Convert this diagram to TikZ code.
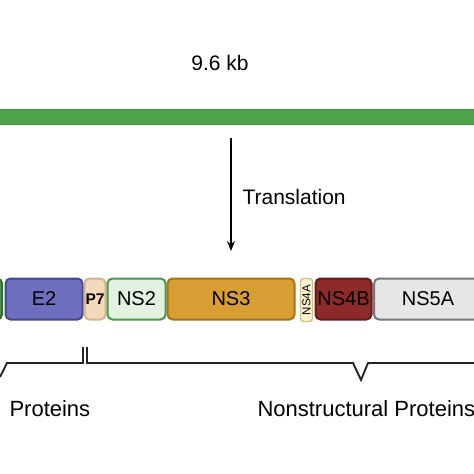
\documentclass[tikz,border=0pt]{standalone}
\usepackage{fontspec}
\setmainfont{Liberation Sans}
\usetikzlibrary{arrows.meta}
\definecolor{genome}{HTML}{4CA34A}
\definecolor{genomeedge}{HTML}{3B8C3B}
\definecolor{eone}{HTML}{4A9A4A}
\definecolor{eoneedge}{HTML}{2D6E2D}
\definecolor{etwo}{HTML}{6E6EBE}
\definecolor{etwoedge}{HTML}{46468F}
\definecolor{pseven}{HTML}{F3D9BC}
\definecolor{psevenedge}{HTML}{D4B28E}
\definecolor{nstwo}{HTML}{E2F2E0}
\definecolor{nstwoedge}{HTML}{4A964C}
\definecolor{nsthree}{HTML}{D69E33}
\definecolor{nsthreeedge}{HTML}{A87218}
\definecolor{nsfoura}{HTML}{FAF3CF}
\definecolor{nsfouraedge}{HTML}{D2C080}
\definecolor{nsfourb}{HTML}{8E2A2A}
\definecolor{nsfourbedge}{HTML}{651A1A}
\definecolor{nsfivea}{HTML}{E6E6E6}
\definecolor{nsfiveaedge}{HTML}{767676}
\definecolor{bracket}{HTML}{262626}
\begin{document}
\begin{tikzpicture}[x=1pt,y=-1pt,
  prot/.style={draw, line width=2pt, rounded corners=5pt, minimum height=41pt,
    inner sep=0pt, font=\fontsize{20}{20}\selectfont},
  lbl/.style={font=\fontsize{21}{21}\selectfont},
  brace/.style={draw=bracket, line width=1.9pt}]
\useasboundingbox (0,0) rectangle (474,474);
\clip (0,0) rectangle (474,474);
% genome
\node[lbl] (size) at (220,63) {9.6 kb};
\filldraw[fill=genome, draw=genomeedge, line width=1pt] (-5,109) rectangle (480,124);
% translation arrow
\coordinate (transtop) at (231,138);
\coordinate (transbot) at (231,251);
\draw[line width=1.6pt, -{Stealth[length=10pt,width=8pt]}] (transtop) -- (transbot);
\node[lbl, anchor=west] (trans) at (239,197) {Translation};
% polyprotein
\node[prot, fill=eone, draw=eoneedge, minimum width=60pt] (eone) at (-28,299) {};
\node[prot, fill=etwo, draw=etwoedge, minimum width=77pt] (etwo) at (44,299) {E2};
\node[prot, fill=pseven, draw=psevenedge, minimum width=21pt,
  font=\fontsize{15.5}{15.5}\selectfont\bfseries] (pseven) at (95,299) {P7};
\node[prot, fill=nstwo, draw=nstwoedge, minimum width=58pt] (nstwo) at (136.5,299) {NS2};
\node[prot, fill=nsthree, draw=nsthreeedge, minimum width=127pt] (nsthree) at (231,299) {NS3};
\node[prot, fill=nsfoura, draw=nsfouraedge, line width=1.3pt, minimum width=12pt, minimum height=43pt,
  rounded corners=3pt, font=\fontsize{11.5}{11.5}\selectfont] (nsfoura) at (306.5,300) {\rotatebox{90}{NS4A}};
\node[prot, fill=nsfourb, draw=nsfourbedge, minimum width=56pt] (nsfourb) at (343.5,299) {NS4B};
\node[prot, fill=nsfivea, draw=nsfiveaedge, minimum width=108pt] (nsfivea) at (428,299) {NS5A};
% brackets
\draw[brace] (0,377) -- (7,363) -- (83,363) -- (83,347);
\draw[brace] (87,347) -- (87,363) -- (353,363) -- (361,380) -- (368,363) -- (480,363);
\node[font=\fontsize{22}{22}\selectfont, anchor=west] (struct) at (6,409) {Proteins};
\node[font=\fontsize{22}{22}\selectfont, anchor=west] (nonstruct) at (254,409) {Nonstructural Proteins};
\end{tikzpicture}
\end{document}
